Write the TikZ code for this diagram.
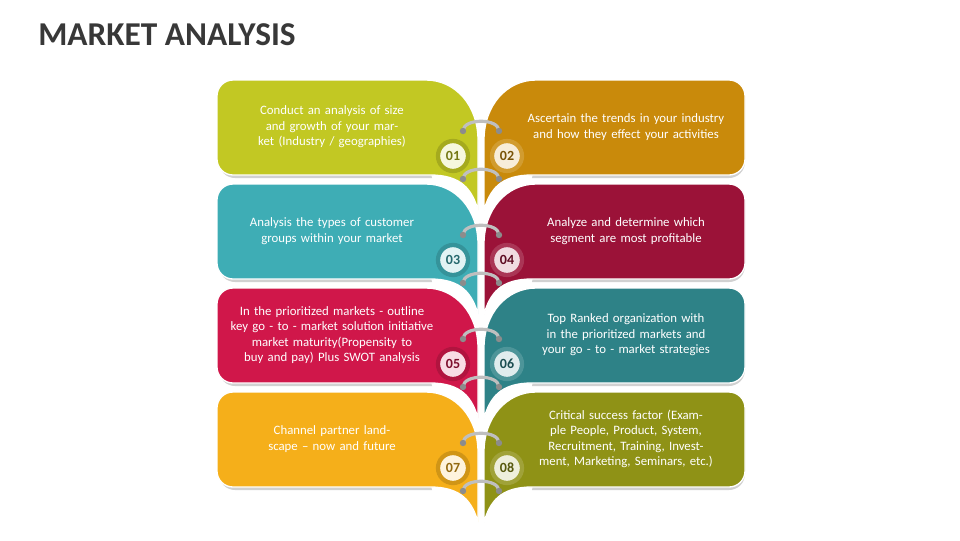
\documentclass[tikz,border=0pt]{standalone}
\usepackage{fontspec}
\setmainfont{Carlito}
\begin{document}
\begin{tikzpicture}[x=0.75pt,y=-0.75pt,
  txt/.style={text=white,align=center,text width=205*0.75pt,font=\fontsize{9.6}{11.6}\selectfont,inner sep=0pt},
  num/.style={circle,line width=3.2pt,minimum size=30*0.75pt,inner sep=0pt,font=\fontsize{10.5}{12}\selectfont\bfseries},
  hook/.style={draw=black!25,line width=2.4pt},
  dot/.style={fill=black!45}]
\useasboundingbox (0,0) rectangle (960,540);
\node[anchor=west,font=\fontsize{25}{28}\selectfont\bfseries,text=black!78,inner sep=0pt] (title) at (38,35) {MARKET ANALYSIS};
\definecolor{c1}{HTML}{C2C823}\definecolor{c2}{HTML}{C98A0B}
\definecolor{c3}{HTML}{3EADB5}\definecolor{c4}{HTML}{9B1238}
\definecolor{c5}{HTML}{D0174A}\definecolor{c6}{HTML}{2E8287}
\definecolor{c7}{HTML}{F5AF1A}\definecolor{c8}{HTML}{8F9216}
\foreach \T/\cl/\cr/\nl/\nr/\tl/\tr [count=\i] in {
 80/c1/c2/01/02/{Conduct an analysis of size and growth of your market (Industry / geographies)}/{Ascertain the trends in your industry and how they effect your activities},
 184/c3/c4/03/04/{Analysis the types of customer groups within your market}/{Analyze and determine which segment are most profitable},
 288/c5/c6/05/06/{In the prioritized markets - outline key go - to - market solution initiative market maturity(Propensity to buy and pay) Plus SWOT analysis}/{Top Ranked organization with in the prioritized markets and your go - to - market strategies},
 392/c7/c8/07/08/{Channel partner landscape -- now and future}/{Critical success factor (Example People, Product, System, Recruitment, Training, Investment, Marketing, Seminars, etc.)}}{
  % shadows
  \fill[black!18] [rounded corners=12] (432,\T+98) -- (219,\T+98) -- (219,\T+3) -- (412,\T+3);
  \fill[black!18] [rounded corners=12] (532,\T+98) -- (745,\T+98) -- (745,\T+3) -- (552,\T+3);
  % left block
  \filldraw[fill=\cl,draw=white,line width=1pt] [rounded corners=12] (430,\T+95) -- (217,\T+95) -- (217,\T) -- (410,\T) [sharp corners]
     .. controls (455,\T) and (478,\T+25) .. (478,\T+60) -- (478,\T+130)
     .. controls (472,\T+110) and (462,\T+95) .. (430,\T+95) -- cycle;
  % right block
  \filldraw[fill=\cr,draw=white,line width=1pt] [rounded corners=12] (532,\T+95) -- (745,\T+95) -- (745,\T) -- (552,\T) [sharp corners]
     .. controls (507,\T) and (484,\T+25) .. (484,\T+60) -- (484,\T+130)
     .. controls (490,\T+110) and (500,\T+95) .. (532,\T+95) -- cycle;
  \node[txt] (tl\i) at (332,\T+47) {\tl};
  \node[txt] (tr\i) at (626,\T+47) {\tr};
  % hooks
  \draw[hook] (463,\T+51) .. controls (463,\T+38) and (499,\T+38) .. (499,\T+51);
  \draw[hook] (463,\T+99) .. controls (463,\T+86) and (499,\T+86) .. (499,\T+99);
  \foreach \hx/\hy in {463/51,499/51,463/99,499/99} \fill[dot] (\hx,\T+\hy) circle (3.2);
  \node[num,draw=\cl!85!black,fill=\cl!15,text=\cl!60!black] (n\nl) at (453,\T+76) {\nl};
  \node[num,draw=\cr!85!white,fill=\cr!15,text=\cr!60!black] (n\nr) at (507,\T+76) {\nr};
}
\end{tikzpicture}
\end{document}
